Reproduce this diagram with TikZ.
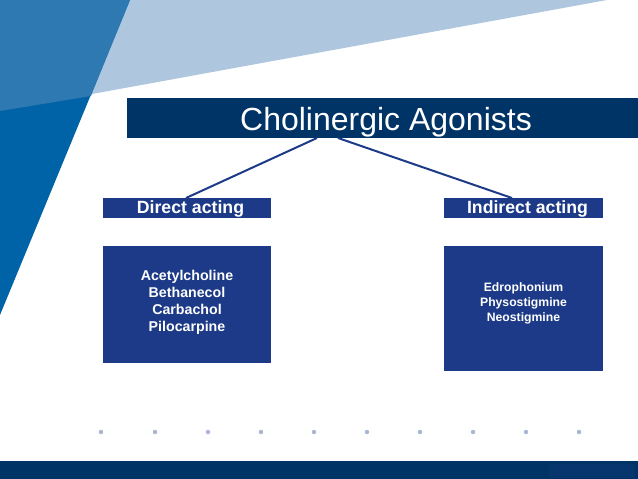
\documentclass[tikz,border=0pt]{standalone}
\usepackage{fontspec}
\setmainfont{Liberation Sans}
\usepackage{tikz}
\usetikzlibrary{positioning}
\definecolor{barblue}{HTML}{003366}
\definecolor{boxblue}{HTML}{1C3A87}
\definecolor{midblue}{HTML}{0063A8}
\definecolor{paleblue}{HTML}{2F79B2}
\definecolor{skyblue}{HTML}{AEC7DE}
\definecolor{dotblue}{HTML}{A9B6D6}
\tikzset{
  headbox/.style={fill=boxblue,text=white,inner sep=0pt,font=\fontsize{17.7}{17.7}\bfseries\selectfont},
  listbox/.style={fill=boxblue,text=white,inner sep=0pt,align=center,font=\fontsize{14.2}{17}\bfseries\selectfont},
  dot/.style={circle,fill=dotblue,inner sep=0pt,minimum size=4.5pt}
}
\begin{document}
\begin{tikzpicture}[x=1pt,y=-1pt]
    \useasboundingbox (0,0) rectangle (638,479);
    % background wedges
    \fill[skyblue] (130,0) -- (607,0) -- (92,94) -- cycle;
    \fill[midblue] (0,0) -- (130,0) -- (0,315) -- cycle;
    \fill[paleblue] (0,0) -- (130,0) -- (91,96) -- (0,111) -- cycle;

    \node[fill=barblue,inner sep=0pt,minimum width=511pt,minimum height=40pt](title) at (382.5,118) {};
    \node[text=white,font=\fontsize{32}{32}\selectfont](titletext) at (386,122) {Cholinergic Agonists};

    \node[headbox,minimum width=168pt,minimum height=20pt](direct) at (187,208) {};
    \node[headbox](directtext) at (190.5,209) {Direct acting};
    \node[headbox,minimum width=159pt,minimum height=20pt](indirect) at (523.5,208) {};
    \node[headbox](indirecttext) at (527.5,209) {Indirect acting};

    \node[listbox,minimum width=168pt,minimum height=117pt](directlist) at (187,304.5) {};
    \node[listbox](directdrugs) at (187,302.5)
      {Acetylcholine\\Bethanecol\\Carbachol\\Pilocarpine};
    \node[listbox,minimum width=159pt,minimum height=125pt](indirectlist) at (523.5,308.5) {};
    \node[listbox,font=\fontsize{12.2}{15}\bfseries\selectfont](indirectdrugs) at (523.5,303)
      {Edrophonium\\Physostigmine\\Neostigmine};

    \coordinate(leftfoot) at (317,138);
    \coordinate(rightfoot) at (338,138);
    \coordinate(lefttop) at (186,198);
    \coordinate(righttop) at (512,198);
    \begin{scope}
      \draw[boxblue,line width=2pt]
      (leftfoot) -- (lefttop)
      (rightfoot) -- (righttop);
    \end{scope}

    \foreach \i/\xpos in {1/101,2/155,3/208,4/261,5/314,6/367,7/420,8/473,9/526,10/579}
      \node[dot](dot\i) at (\xpos,432) {};

    \node[fill=barblue,inner sep=0pt,minimum width=638pt,minimum height=18pt](footer) at (319,470) {};
    \node[fill=boxblue!25!barblue,inner sep=0pt,minimum width=86pt,minimum height=14pt](tag) at (592,471) {};
\end{tikzpicture}
\end{document}
